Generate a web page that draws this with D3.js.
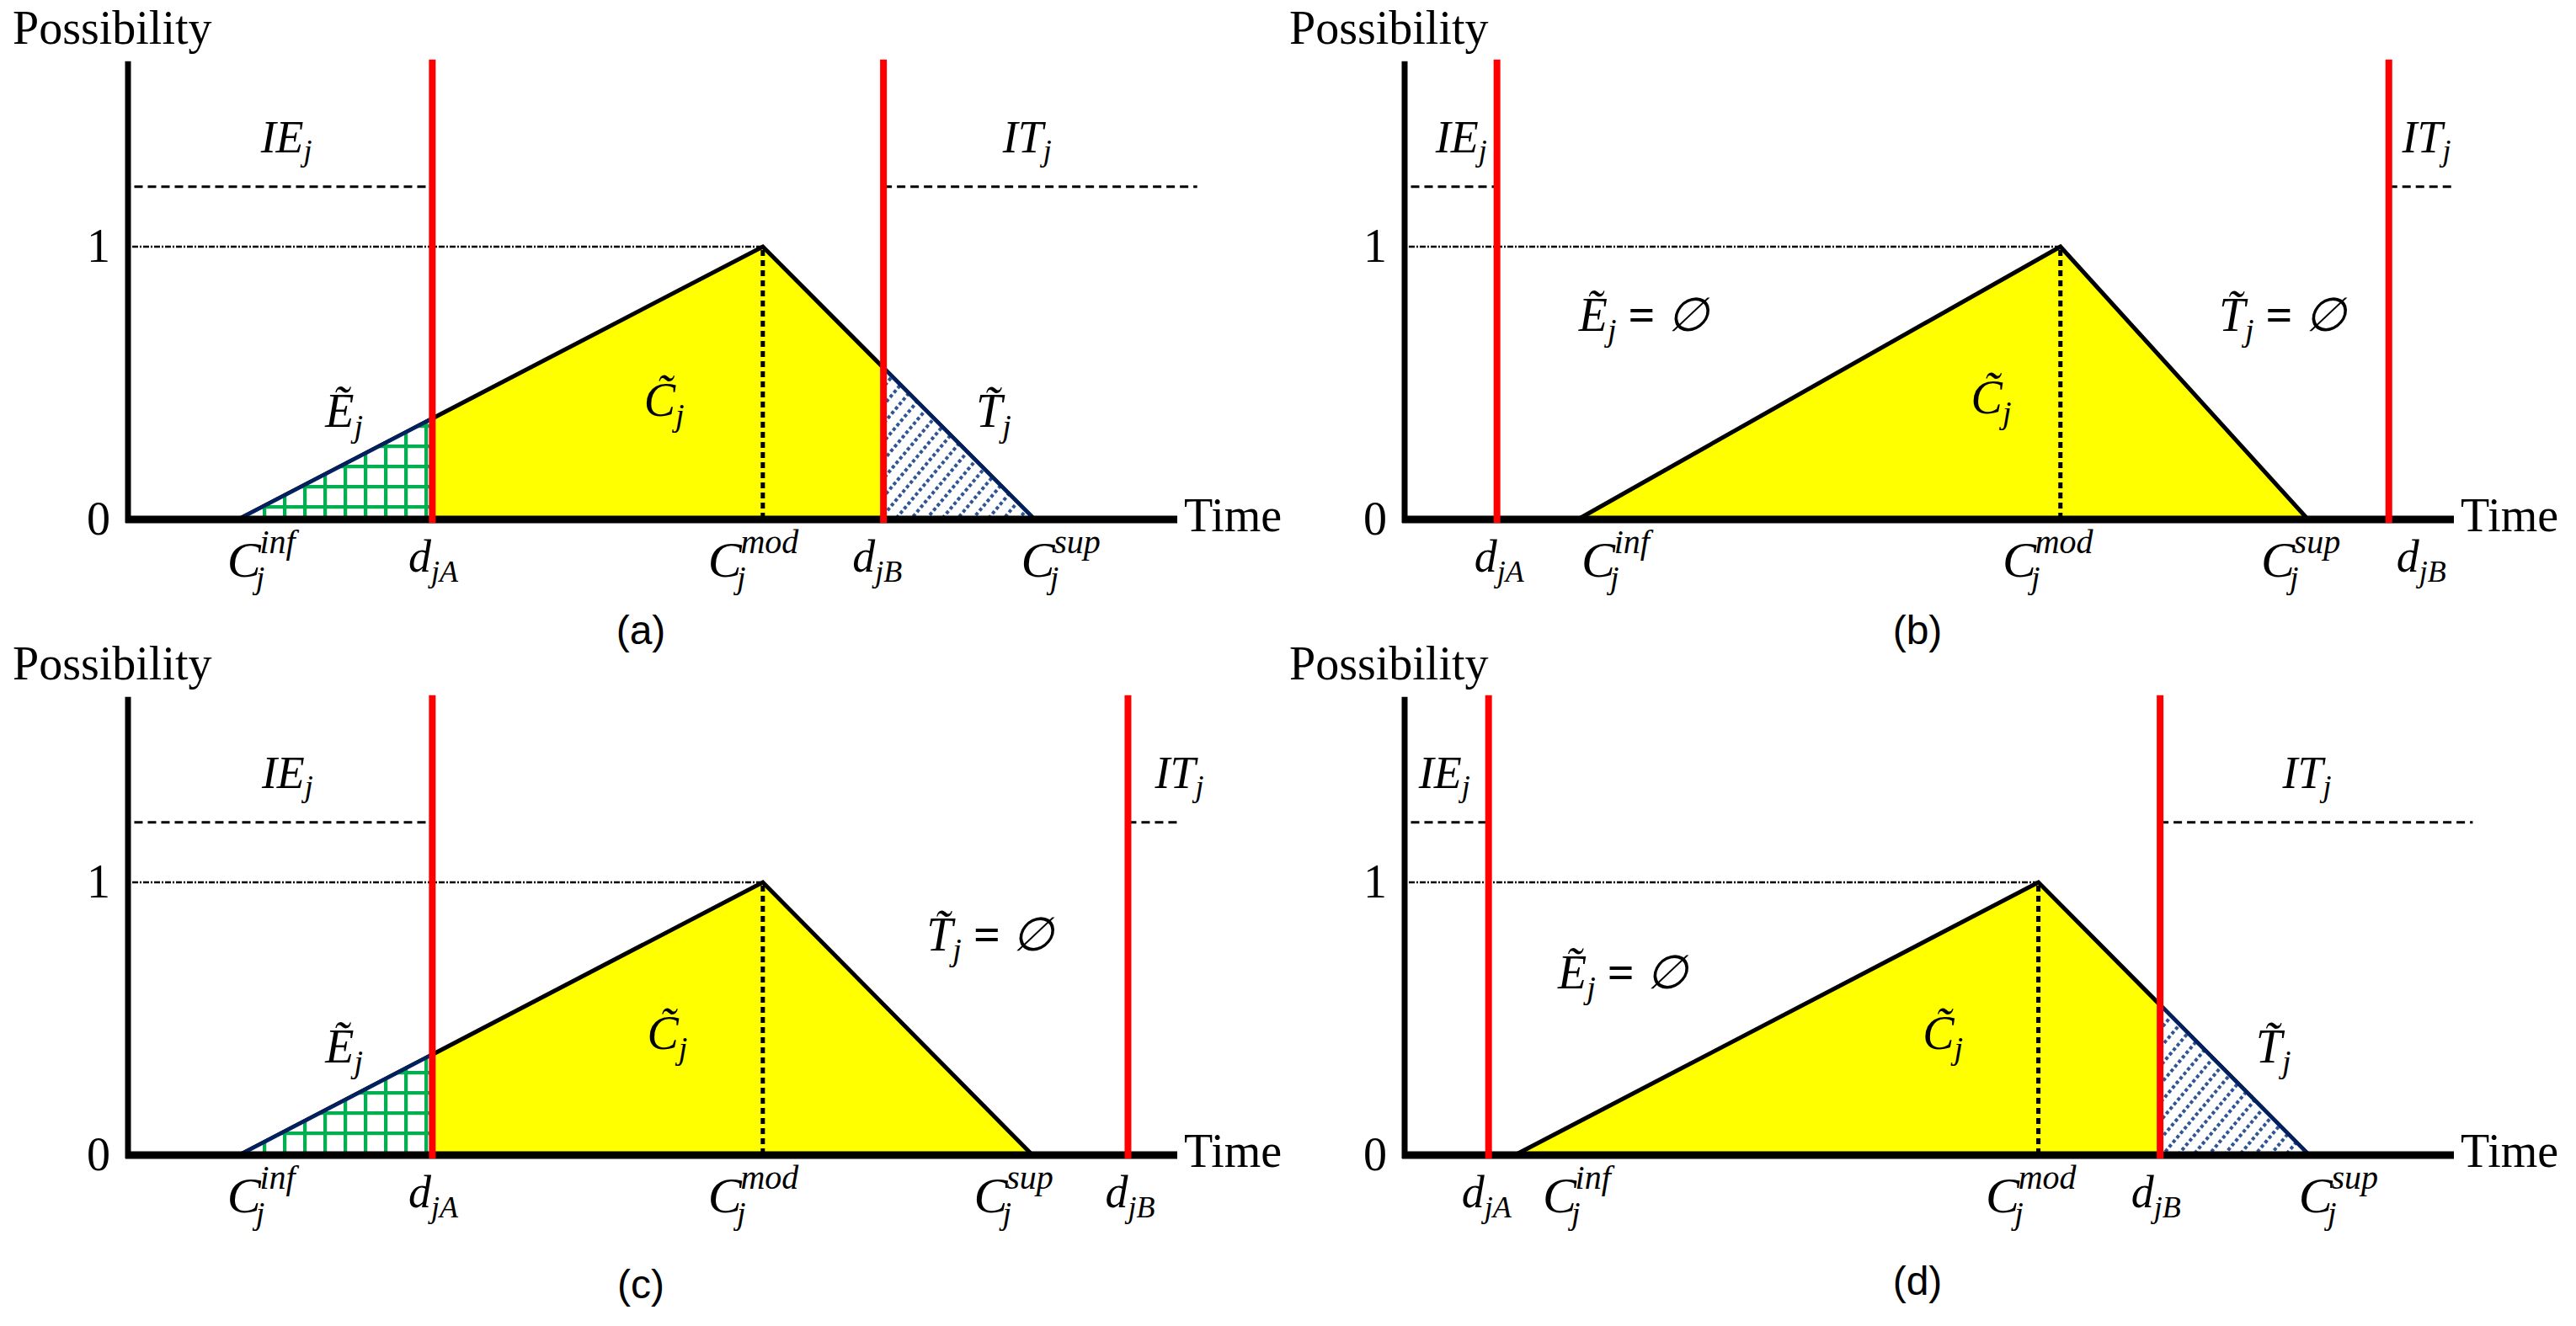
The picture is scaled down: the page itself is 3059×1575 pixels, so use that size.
<!DOCTYPE html>
<html>
<head>
<meta charset="utf-8">
<title>Earliness / tardiness possibility</title>
<script src="https://d3js.org/d3.v7.min.js"></script>
<style>
    body { margin: 0; padding: 0; background: #fff; }
    .serif { font-family: "Liberation Serif", "Times New Roman", serif; }
    .math { font-family: "Liberation Serif", "Times New Roman", serif; font-style: italic; }
    .cap { font-family: "Liberation Sans", Arial, sans-serif; }
</style>
</head>
<body>
<div id="viz"></div>
<script>
var width = 3059, height = 1575;

// the four cases, time on a 0..100 axis, possibility on 0..1
var panels = ["(a)", "(b)", "(c)", "(d)"];
var cInf = [10.5, 16.5, 10.6, 10.5];
var cMod = [60.5, 62.5, 60.5, 60.4];
var cSup = [86.4, 86.1, 86.2, 86.2];
var dA = [29.0, 8.8, 29.0, 8.0];
var dB = [72.0, 93.8, 95.3, 72.0];
var itEnd = [101.9, 100.2, 100.4, 101.8];

// where the tick labels sit on the time axis
var cInfLabelAt = [12.7, 20.1, 12.7, 16.4];
var dALabelAt = [29.1, 9.0, 29.1, 7.8];
var cModLabelAt = [59.6, 61.3, 59.6, 59.7];
var dBLabelAt = [71.4, 96.9, 95.5, 71.6];
var cSupLabelAt = [88.9, 85.4, 84.4, 89.0];

// annotation anchors [time, possibility]
var eLabelAt = [[20.6, 0.34], [16.6, 0.69], [20.6, 0.34], [14.6, 0.61]];
var cLabelAt = [[51.1, 0.38], [55.9, 0.39], [51.4, 0.39], [51.3, 0.39]];
var tLabelAt = [[82.5, 0.34], [77.6, 0.69], [76.1, 0.75], [82.8, 0.34]];
var ieLabelAt = [15.1, 5.4, 15.2, 3.8];
var itLabelAt = [85.7, 97.4, 100.2, 86.0];

var intervalLevel = 1.22;   // IE_j / IT_j dashed lines
var axisTop = 1.68;

var originX = [152, 1668, 152, 1668];
var baseY = [617, 617, 1372, 1372];
var captionDy = [148, 148, 170, 166];
var axisLen = 1246, unitH = 324;

var svg = d3.select("#viz").append("svg")
    .attr("width", width)
    .attr("height", height)
    .style("display", "block");

svg.append("rect").attr("width", width).attr("height", height).attr("fill", "#fff");

var defs = svg.append("defs");

// green grid for E~j
var grid = defs.append("pattern").attr("id", "grid")
    .attr("patternUnits", "userSpaceOnUse").attr("width", 24).attr("height", 24);
grid.append("rect").attr("width", 24).attr("height", 24).attr("fill", "#fff");
grid.append("line").attr("x1", 2).attr("y1", 0).attr("x2", 2).attr("y2", 24)
    .attr("stroke", "#00b050").attr("stroke-width", 4.5);
grid.append("line").attr("x1", 0).attr("y1", 2).attr("x2", 24).attr("y2", 2)
    .attr("stroke", "#00b050").attr("stroke-width", 4.5);

// dashed blue diagonals for T~j
var hatch = defs.append("pattern").attr("id", "hatch")
    .attr("patternUnits", "userSpaceOnUse").attr("width", 14).attr("height", 14)
    .attr("patternTransform", "rotate(40)");
hatch.append("rect").attr("width", 14).attr("height", 14).attr("fill", "#fff");
hatch.append("line").attr("x1", 7).attr("y1", 0).attr("x2", 7).attr("y2", 14)
    .attr("stroke", "#2f5597").attr("stroke-width", 4).attr("stroke-dasharray", "4 3");

function tilded(g, x, y, letter, anchor, empty) {
    var t = g.append("text").attr("class", "math")
        .attr("x", x).attr("y", y)
        .attr("text-anchor", anchor)
        .style("font-size", "56px");
    t.append("tspan").text(letter + "\u0303");
    t.append("tspan").attr("dy", 12).style("font-size", "38px").text("j");
    if (empty) {
        t.append("tspan").attr("dy", -12).style("font-style", "normal").style("font-weight", "bold").text(" = ");
        t.append("tspan").text("\u2205");
    }
}

// C with subscript j and a superscript stacked over it
function compLabel(g, cx, y, sup) {
    var t = g.append("text").attr("class", "math")
        .attr("x", cx).attr("y", y).attr("text-anchor", "middle")
        .style("font-size", "60px");
    t.append("tspan").text("C");
    t.append("tspan").attr("dx", -6).attr("dy", 14).style("font-size", "38px").text("j");
    t.append("tspan").attr("dx", -6).attr("dy", -42).style("font-size", "40px").text(sup);
}

function dueLabel(g, cx, y, sub) {
    var t = g.append("text").attr("class", "math")
        .attr("x", cx).attr("y", y).attr("text-anchor", "middle")
        .style("font-size", "54px");
    t.append("tspan").text("d");
    t.append("tspan").attr("dy", 12).style("font-size", "36px").text(sub);
}

panels.forEach(function(name, i) {
    var x = d3.scaleLinear().domain([0, 100]).range([originX[i], originX[i] + axisLen]);
    var y = d3.scaleLinear().domain([0, 1]).range([baseY[i], baseY[i] - unitH]);
    var g = svg.append("g");

    var mu = function(t) {
        if (t <= cInf[i] || t >= cSup[i]) return 0;
        return t <= cMod[i] ? (t - cInf[i]) / (cMod[i] - cInf[i]) : (cSup[i] - t) / (cSup[i] - cMod[i]);
    };
    var line = d3.line().x(function(d) { return x(d[0]); }).y(function(d) { return y(d[1]); });

    // C~j triangle
    g.append("path")
        .attr("d", line([[cInf[i], 0], [cMod[i], 1], [cSup[i], 0]]) + "Z")
        .attr("fill", "#ffff00").attr("stroke", "#000").attr("stroke-width", 5)
        .attr("stroke-linejoin", "miter");

    // earliness part
    if (dA[i] > cInf[i]) {
        g.append("path")
            .attr("d", line([[cInf[i], 0], [dA[i], mu(dA[i])], [dA[i], 0]]) + "Z")
            .attr("fill", "url(#grid)").attr("stroke", "#002060").attr("stroke-width", 4.5);
    }
    // tardiness part
    if (dB[i] < cSup[i]) {
        g.append("path")
            .attr("d", line([[dB[i], 0], [dB[i], mu(dB[i])], [cSup[i], 0]]) + "Z")
            .attr("fill", "url(#hatch)").attr("stroke", "#002060").attr("stroke-width", 4.5);
    }

    // possibility 1 guide
    g.append("line")
        .attr("x1", x(0.4)).attr("y1", y(1)).attr("x2", x(cMod[i])).attr("y2", y(1))
        .attr("stroke", "#000").attr("stroke-width", 2.5).attr("stroke-dasharray", "7 2 2 2");

    // mode drop line
    g.append("line")
        .attr("x1", x(cMod[i])).attr("y1", y(1) + 4).attr("x2", x(cMod[i])).attr("y2", y(0))
        .attr("stroke", "#000").attr("stroke-width", 5).attr("stroke-dasharray", "7 5");

    // IE / IT intervals
    g.append("line")
        .attr("x1", x(0.6)).attr("y1", y(intervalLevel)).attr("x2", x(dA[i])).attr("y2", y(intervalLevel))
        .attr("stroke", "#000").attr("stroke-width", 3).attr("stroke-dasharray", "10 6");
    g.append("line")
        .attr("x1", x(dB[i])).attr("y1", y(intervalLevel)).attr("x2", x(itEnd[i])).attr("y2", y(intervalLevel))
        .attr("stroke", "#000").attr("stroke-width", 3).attr("stroke-dasharray", "10 6");

    // axes
    g.append("line")
        .attr("x1", x(0)).attr("y1", y(axisTop)).attr("x2", x(0)).attr("y2", y(0) + 4)
        .attr("stroke", "#000").attr("stroke-width", 7);
    g.append("line")
        .attr("x1", x(0) - 3).attr("y1", y(0)).attr("x2", x(100)).attr("y2", y(0))
        .attr("stroke", "#000").attr("stroke-width", 9);

    // due dates
    [dA[i], dB[i]].forEach(function(d) {
        g.append("line")
            .attr("x1", x(d)).attr("y1", y(axisTop) - 2).attr("x2", x(d)).attr("y2", y(0) + 4)
            .attr("stroke", "#ff0000").attr("stroke-width", 8);
    });

    // axis text
    g.append("text").attr("class", "serif")
        .attr("x", x(0) - 137).attr("y", y(0) - 565)
        .style("font-size", "56px").text("Possibility");
    g.append("text").attr("class", "serif")
        .attr("x", x(100) + 8).attr("y", y(0) + 14)
        .style("font-size", "56px").text("Time");
    g.append("text").attr("class", "serif").attr("text-anchor", "middle")
        .attr("x", x(0) - 35).attr("y", y(0) + 18)
        .style("font-size", "56px").text("0");
    g.append("text").attr("class", "serif").attr("text-anchor", "middle")
        .attr("x", x(0) - 35).attr("y", y(1) + 18)
        .style("font-size", "56px").text("1");

    // tick labels under the time axis
    compLabel(g, x(cInfLabelAt[i]), y(0) + 68, "inf");
    compLabel(g, x(cModLabelAt[i]), y(0) + 68, "mod");
    compLabel(g, x(cSupLabelAt[i]), y(0) + 68, "sup");
    dueLabel(g, x(dALabelAt[i]), y(0) + 62, "jA");
    dueLabel(g, x(dBLabelAt[i]), y(0) + 62, "jB");

    // interval labels
    [[ieLabelAt[i], "IE"], [itLabelAt[i], "IT"]].forEach(function(l) {
        var t = g.append("text").attr("class", "math")
            .attr("x", x(l[0])).attr("y", y(1.345)).attr("text-anchor", "middle")
            .style("font-size", "54px");
        t.append("tspan").text(l[1]);
        t.append("tspan").attr("dy", 10).style("font-size", "36px").text("j");
    });

    // region labels
    var eEmpty = dA[i] <= cInf[i], tEmpty = dB[i] >= cSup[i];
    tilded(g, x(eLabelAt[i][0]), y(eLabelAt[i][1]), "E", eEmpty ? "start" : "middle", eEmpty);
    tilded(g, x(cLabelAt[i][0]), y(cLabelAt[i][1]), "C", "middle", false);
    tilded(g, x(tLabelAt[i][0]), y(tLabelAt[i][1]), "T", tEmpty ? "start" : "middle", tEmpty);

    // caption
    g.append("text").attr("class", "cap").attr("text-anchor", "middle")
        .attr("x", x(50) - 14).attr("y", y(0) + captionDy[i])
        .style("font-size", "48px").text(name);
});
</script>
</body>
</html>
